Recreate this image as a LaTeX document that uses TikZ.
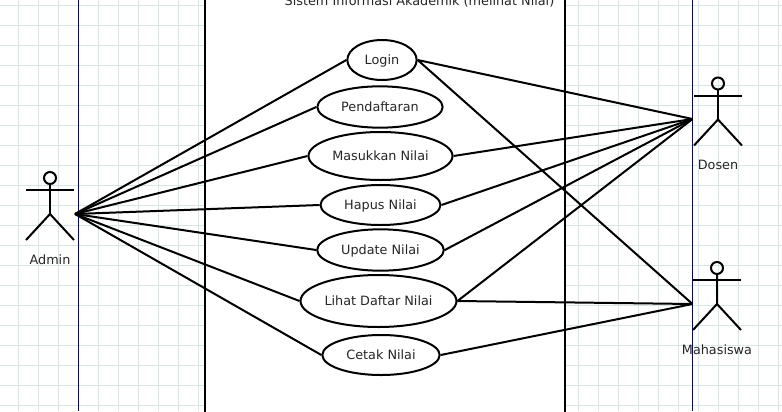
\documentclass[tikz,border=0pt]{standalone}
\usepackage{fontspec}
\setmainfont{DejaVu Sans}
\usetikzlibrary{shapes.geometric}
\definecolor{gridcol}{HTML}{D6E6E4}
\definecolor{margincol}{HTML}{0000AA}
\tikzset{>=stealth}
\tikzset{usecase/.style = {draw, ellipse, fill=white, line width=1.5pt, inner sep=0pt, text=black!85, text height=8pt, text depth=2pt, font=\fontsize{9.6}{12}\selectfont}}
\tikzset{plainlabel/.style = {inner sep=0pt, text=black!85, font=\fontsize{9.6}{12}\selectfont}}
\tikzset{assoc/.style = {line width=1.5pt}}
\tikzset{actor/.pic = {
    \draw [line width=1.5pt] (0,-36) circle [radius = 6];
    \draw [line width=1.5pt] (0,-30) -- (0,0);
    \draw [line width=1.5pt] (-24,-24) -- (24,-24);
    \draw [line width=1.5pt] (-24,26) -- (0,0) -- (24,26);
}}

\begin{document}
\begin{tikzpicture}[x=0.75pt, y=-0.75pt]
    \useasboundingbox (0,0) rectangle (782,411);
    \clip (0,0) rectangle (782,411);
    \fill [white] (0,0) rectangle (782,411);
    % paper
    \foreach \gx in {0,...,38} {
        \draw [gridcol, line width=0.75pt] (18.5+20*\gx,0) -- (18.5+20*\gx,411);
    }
    \foreach \gy in {0,...,20} {
        \draw [gridcol, line width=0.75pt] (0,5.3+20*\gy) -- (782,5.3+20*\gy);
    }
    \draw [margincol, line width=0.75pt] (78.5,0) -- (78.5,411);
    \draw [margincol, line width=0.75pt] (692.5,0) -- (692.5,411);

    % system
    \draw [fill=white, line width=1.5pt] (205,-10) rectangle (565,421);
    \node (title) [plainlabel] at (419.5,1.5) {Sistem Informasi Akademik (melihat Nilai)};

    % use cases
    \node (login) [usecase, minimum width=52pt, minimum height=30pt] at (382,60) {Login};
    \node (daftar) [usecase, minimum width=94pt, minimum height=31pt] at (380,107) {Pendaftaran};
    \node (masukkan) [usecase, minimum width=108pt, minimum height=36pt] at (380.5,156) {Masukkan Nilai};
    \node (hapus) [usecase, minimum width=90pt, minimum height=30pt] at (380.5,205) {Hapus Nilai};
    \node (update) [usecase, minimum width=95pt, minimum height=31pt] at (380.5,250) {Update Nilai};
    \node (lihat) [usecase, minimum width=117pt, minimum height=39pt] at (378.5,301) {Lihat Daftar Nilai};
    \node (cetak) [usecase, minimum width=88pt, minimum height=30pt] at (381,355) {Cetak Nilai};

    % actors
    \pic at (50,214) {actor};
    \pic at (718,119.5) {actor};
    \pic at (717,304) {actor};
    \node (admin) [plainlabel] at (50,260) {Admin};
    \node (dosen) [plainlabel] at (718,165) {Dosen};
    \node (mhs) [plainlabel] at (717,350) {Mahasiswa};
    \coordinate (adminend) at (75,214);
    \coordinate (dosenend) at (692.5,119);
    \coordinate (mhsend) at (692.5,304);

    % associations
    \foreach \uc in {login,daftar,masukkan,hapus,update,lihat,cetak} {
        \draw [assoc] (adminend) -- (\uc.west);
    }
    \foreach \uc in {login,masukkan,hapus,update,lihat} {
        \draw [assoc] (\uc.east) -- (dosenend);
    }
    \foreach \uc in {login,lihat,cetak} {
        \draw [assoc] (\uc.east) -- (mhsend);
    }
\end{tikzpicture}
\end{document}
